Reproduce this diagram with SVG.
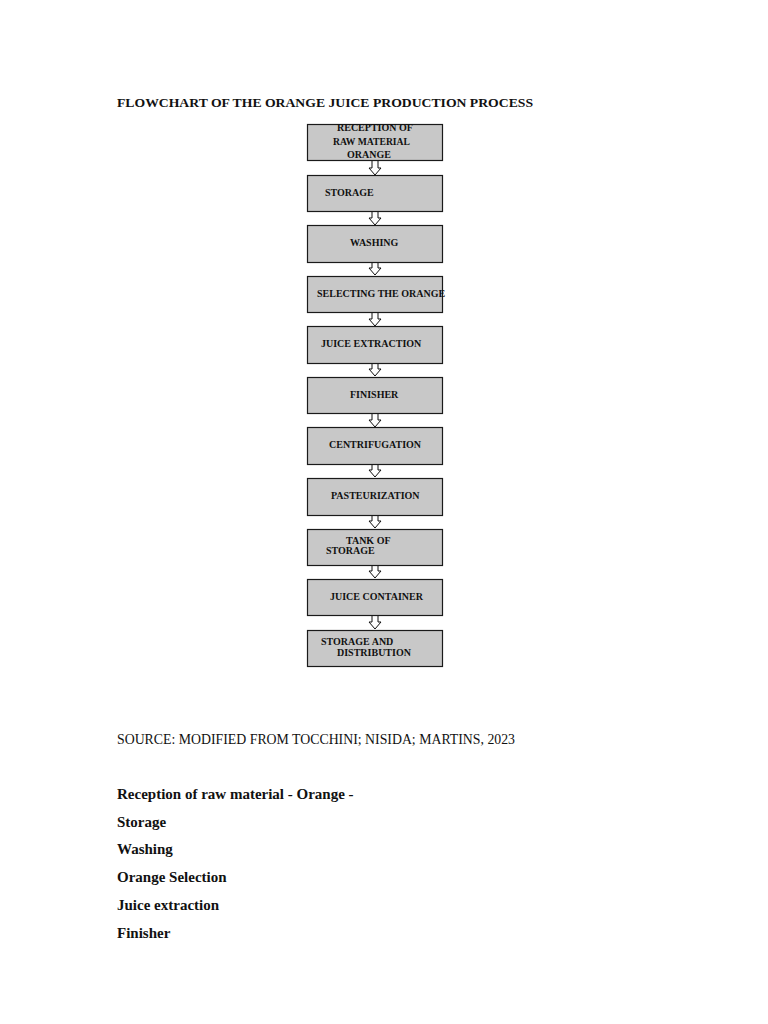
<svg xmlns="http://www.w3.org/2000/svg" width="768" height="1024" viewBox="0 0 768 1024">
<style>
.box{fill:#c8c8c8;stroke:#1a1a1a;stroke-width:1.2}
.lbl{font-family:"Liberation Serif",serif;font-weight:bold;font-size:10px;fill:#111}
.arr{fill:#fff;stroke:#111;stroke-width:1}
.title{font-family:"Liberation Serif",serif;font-weight:bold;font-size:13.5px;fill:#111}
.src{font-family:"Liberation Serif",serif;font-size:14px;fill:#111}
.list{font-family:"Liberation Serif",serif;font-weight:bold;font-size:15px;fill:#111}
</style>
<rect width="768" height="1024" fill="#fff"/>
<text class="title" x="117" y="107" textLength="416" lengthAdjust="spacingAndGlyphs">FLOWCHART OF THE ORANGE JUICE PRODUCTION PROCESS</text>

<g id="connectors">
<path class="arr" d="M372,161 V168 H369 L375,175 L381,168 H378 V161"/>
<path class="arr" d="M372,212 V218 H369 L375,225 L381,218 H378 V212"/>
<path class="arr" d="M372,263 V268 H369 L375,275 L381,268 H378 V263"/>
<path class="arr" d="M372,313 V319 H369 L375,326 L381,319 H378 V313"/>
<path class="arr" d="M372,364 V369 H369 L375,376 L381,369 H378 V364"/>
<path class="arr" d="M372,414 V420 H369 L375,427 L381,420 H378 V414"/>
<path class="arr" d="M372,465 V470 H369 L375,477 L381,470 H378 V465"/>
<path class="arr" d="M372,516 V521 H369 L375,528 L381,521 H378 V516"/>
<path class="arr" d="M372,566 V571 H369 L375,578 L381,571 H378 V566"/>
<path class="arr" d="M372,616 V622 H369 L375,629 L381,622 H378 V616"/>
</g>

<g id="n1"><rect class="box" x="307.5" y="124.5" width="135" height="36"/>
<text class="lbl" x="337" y="131">RECEPTION OF</text>
<text class="lbl" x="333" y="145" textLength="77" lengthAdjust="spacingAndGlyphs">RAW MATERIAL</text>
<text class="lbl" x="347" y="158">ORANGE</text></g>
<g id="n2"><rect class="box" x="307.5" y="175.5" width="135" height="36"/>
<text class="lbl" x="325" y="196">STORAGE</text></g>
<g id="n3"><rect class="box" x="307.5" y="225.5" width="135" height="37"/>
<text class="lbl" x="350" y="246">WASHING</text></g>
<g id="n4"><rect class="box" x="307.5" y="276.5" width="135" height="36"/>
<text class="lbl" x="317" y="297">SELECTING THE ORANGE</text></g>
<g id="n5"><rect class="box" x="307.5" y="326.5" width="135" height="37"/>
<text class="lbl" x="321" y="347">JUICE EXTRACTION</text></g>
<g id="n6"><rect class="box" x="307.5" y="377.5" width="135" height="36"/>
<text class="lbl" x="350" y="398">FINISHER</text></g>
<g id="n7"><rect class="box" x="307.5" y="427.5" width="135" height="37"/>
<text class="lbl" x="329" y="448">CENTRIFUGATION</text></g>
<g id="n8"><rect class="box" x="307.5" y="478.5" width="135" height="37"/>
<text class="lbl" x="331" y="499">PASTEURIZATION</text></g>
<g id="n9"><rect class="box" x="307.5" y="529.5" width="135" height="36"/>
<text class="lbl" x="346" y="544">TANK OF</text>
<text class="lbl" x="326" y="554">STORAGE</text></g>
<g id="n10"><rect class="box" x="307.5" y="579.5" width="135" height="36"/>
<text class="lbl" x="330" y="600">JUICE CONTAINER</text></g>
<g id="n11"><rect class="box" x="307.5" y="630.5" width="135" height="36"/>
<text class="lbl" x="321" y="645">STORAGE AND</text>
<text class="lbl" x="337" y="656">DISTRIBUTION</text></g>

<text class="src" x="117" y="744" textLength="398" lengthAdjust="spacingAndGlyphs">SOURCE: MODIFIED FROM TOCCHINI; NISIDA; MARTINS, 2023</text>
<text class="list" x="117" y="799">Reception of raw material - Orange -</text>
<text class="list" x="117" y="827">Storage</text>
<text class="list" x="117" y="854">Washing</text>
<text class="list" x="117" y="882">Orange Selection</text>
<text class="list" x="117" y="910">Juice extraction</text>
<text class="list" x="117" y="938">Finisher</text>
</svg>
